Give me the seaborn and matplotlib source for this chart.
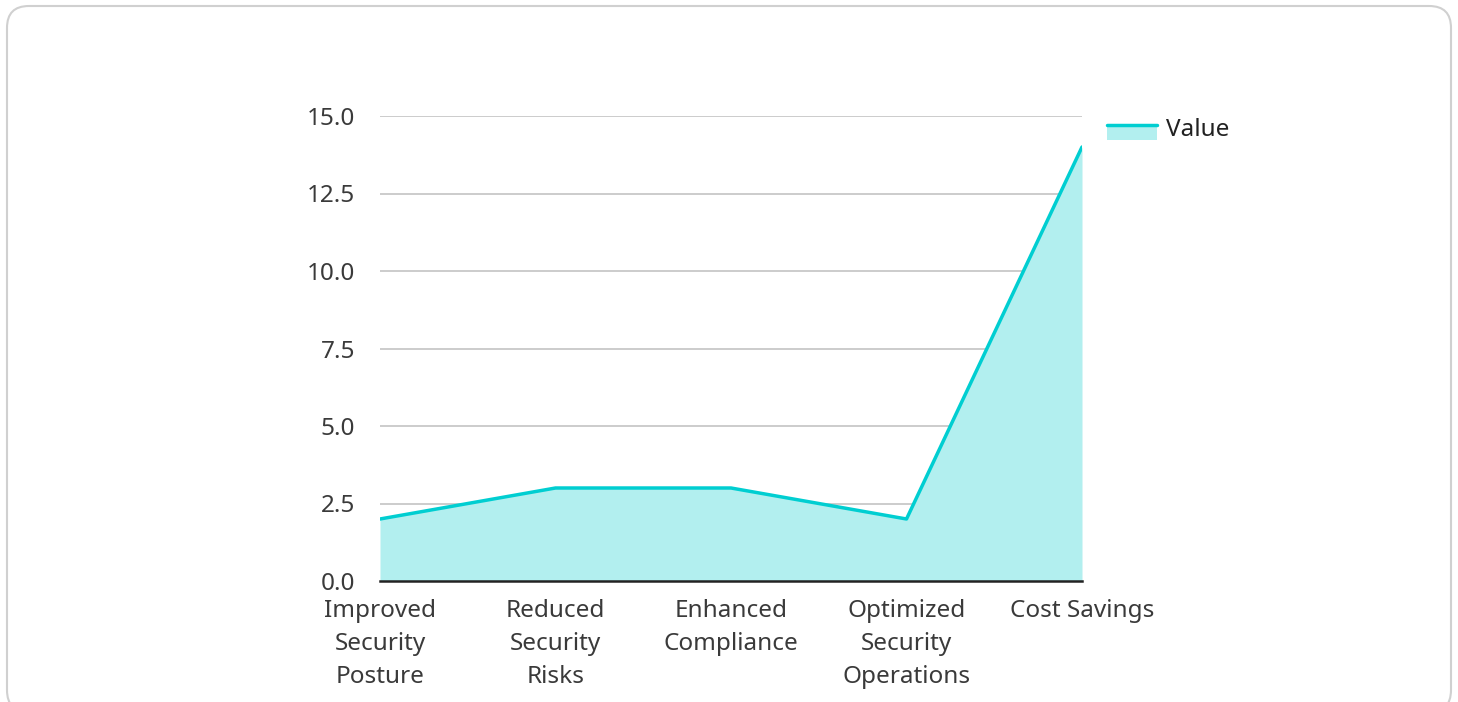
import matplotlib
matplotlib.use("Agg")
import matplotlib.pyplot as plt
import seaborn as sns
import pandas as pd
from matplotlib.patches import FancyBboxPatch, Rectangle
from matplotlib.lines import Line2D
from matplotlib.legend_handler import HandlerBase

categories = ["Improved\nSecurity\nPosture", "Reduced\nSecurity\nRisks", "Enhanced\nCompliance",
              "Optimized\nSecurity\nOperations", "Cost Savings"]
values = [2, 3, 3, 2, 14]
yticks = [0.0, 2.5, 5.0, 7.5, 10.0, 12.5, 15.0]
series_name = "Value"

LINE = "#00CED1"
FILL = "#B2EFEF"

sns.set_theme(style="white")
plt.rcParams["font.family"] = ["Noto Sans", "DejaVu Sans"]

FS = 17.5
fig = plt.figure(figsize=(14.58, 7.02), dpi=100)
W, H = 1458, 702
ax = fig.add_axes([380 / W, 1 - 581 / H, (1082 - 380) / W, (581 - 116) / H])

df = pd.DataFrame({"cat": categories, "val": values})
x = list(range(len(categories)))
ax.fill_between(x, 0, values, color=FILL, lw=0, zorder=2)
sns.lineplot(data=df, x="cat", y="val", sort=False, color=LINE, lw=2.5, ax=ax, zorder=3)

ax.set_xlim(0, len(categories) - 1)
ax.set_ylim(0, 15)
ax.set_yticks(yticks)
ax.set_yticklabels([f"{t:.1f}" for t in yticks])
ax.set_xticks(x)
ax.set_xticklabels(categories, linespacing=1.5)
ax.set_xlabel("")
ax.set_ylabel("")
ax.tick_params(axis="both", length=0, labelsize=FS, labelcolor="#3a3a3a")
ax.tick_params(axis="y", pad=18)
ax.tick_params(axis="x", pad=13)
for t in yticks[1:]:
    ax.axhline(t, color="#c8c8c8", lw=1.3, zorder=1)
for s in ["top", "right", "left"]:
    ax.spines[s].set_visible(False)
ax.spines["bottom"].set_color("#222222")
ax.spines["bottom"].set_linewidth(1.8)
ax.spines["bottom"].set_zorder(4)


class AreaHandler(HandlerBase):
    def create_artists(self, legend, orig_handle, xdescent, ydescent, width, height, fontsize, trans):
        top = height * 0.62
        bot = -height * 0.25
        r = Rectangle((-xdescent, bot - ydescent), width, top - bot,
                      facecolor=FILL, edgecolor="none", transform=trans)
        l = Line2D([-xdescent, -xdescent + width], [top - ydescent, top - ydescent],
                   color=LINE, lw=2.5, transform=trans)
        return [r, l]


dummy = Rectangle((0, 0), 1, 1)
fig.legend([dummy], [series_name], handler_map={Rectangle: AreaHandler()},
           loc="upper left", bbox_to_anchor=(1085 / W, 1 - 96 / H), frameon=False,
           fontsize=FS, handlelength=2.05, handletextpad=0.4, labelcolor="#222222")

border = FancyBboxPatch((7 / W, -10 / H), (1451 - 7) / W, (696 + 10) / H,
                        boxstyle="round,pad=0,rounding_size=0.015",
                        transform=fig.transFigure, facecolor="none",
                        edgecolor="#d0d0d0", lw=1.5, mutation_aspect=W / H)
fig.patches.append(border)

fig.savefig("out.png", dpi=100)
